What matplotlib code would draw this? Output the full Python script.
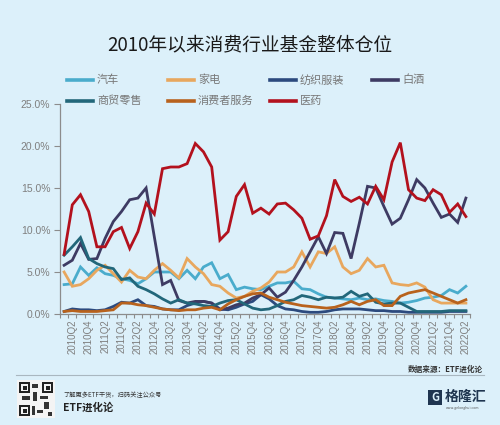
import matplotlib
matplotlib.use("Agg")
import matplotlib.pyplot as plt
from matplotlib.lines import Line2D
from matplotlib.patches import Rectangle

# ---------------- data ----------------
quarters = [f"{y}Q{q}" for y in range(2010, 2023) for q in range(1, 5)][:50]

auto = [3.5, 3.6, 5.6, 4.6, 5.5, 4.8, 4.6, 4.2, 4.0, 3.6,
        4.2, 5.0, 5.0, 5.0, 4.2, 5.2, 4.2, 5.6, 6.1, 4.2,
        4.7, 2.9, 3.2, 3.0, 2.9, 3.3, 3.7, 3.7, 3.9, 3.0,
        2.9, 2.4, 2.0, 1.9, 1.8, 1.7, 1.9, 1.7, 1.8, 1.6,
        1.5, 1.3, 1.4, 1.6, 1.9, 2.0, 2.2, 2.9, 2.5, 3.3]
appliance = [5.0, 3.3, 3.5, 4.2, 5.2, 5.8, 4.8, 3.8, 5.2, 4.4,
             4.2, 5.2, 6.0, 5.2, 4.3, 6.6, 5.6, 4.8, 3.5, 3.3,
             2.5, 1.9, 2.1, 2.7, 3.1, 3.8, 5.0, 5.0, 5.6, 7.4,
             5.6, 7.4, 7.2, 8.0, 5.6, 4.8, 5.2, 6.6, 5.6, 5.8,
             3.7, 3.5, 3.4, 3.7, 3.2, 1.7, 1.3, 1.3, 1.3, 1.3]
textile = [0.3, 0.6, 0.5, 0.5, 0.4, 0.5, 0.9, 1.4, 1.3, 1.7,
           1.0, 0.9, 0.6, 0.5, 0.5, 1.0, 1.3, 1.5, 1.3, 0.6,
           0.5, 0.8, 1.2, 1.5, 2.3, 1.8, 1.0, 0.6, 0.5, 0.3,
           0.2, 0.2, 0.3, 0.5, 0.6, 0.6, 0.6, 0.5, 0.4, 0.4,
           0.3, 0.3, 0.2, 0.2, 0.2, 0.2, 0.2, 0.3, 0.3, 0.3]
liquor = [5.8, 6.4, 8.4, 6.5, 6.6, 9.0, 11.0, 12.2, 13.6, 13.8,
          15.0, 9.2, 3.5, 4.0, 1.6, 1.3, 1.5, 1.5, 1.3, 0.5,
          0.7, 1.1, 1.3, 1.9, 2.3, 3.1, 2.0, 2.6, 4.0, 5.6,
          7.4, 9.2, 7.2, 9.7, 9.6, 6.6, 10.8, 15.2, 15.0, 12.8,
          10.7, 11.4, 13.6, 16.0, 15.0, 13.2, 11.5, 11.9, 10.9, 13.8]
retail = [7.0, 8.0, 9.1, 6.6, 6.0, 5.6, 5.4, 4.1, 4.3, 3.3,
          2.9, 2.4, 1.8, 1.3, 1.7, 1.3, 1.2, 1.0, 0.9, 1.3,
          1.6, 1.7, 1.2, 0.7, 0.5, 0.6, 1.0, 1.5, 1.7, 2.2,
          2.0, 1.7, 2.0, 1.9, 2.0, 2.7, 2.1, 2.4, 1.4, 1.2,
          1.3, 1.3, 0.8, 0.3, 0.3, 0.3, 0.3, 0.4, 0.4, 0.4]
services = [0.3, 0.4, 0.3, 0.3, 0.3, 0.4, 0.5, 1.3, 1.3, 1.1,
            1.0, 0.8, 0.6, 0.5, 0.4, 0.5, 0.5, 0.7, 0.8, 0.5,
            1.2, 1.7, 2.1, 2.4, 2.5, 2.0, 1.7, 1.4, 1.2, 1.0,
            0.9, 0.8, 0.7, 0.8, 1.1, 1.5, 1.1, 1.5, 1.7, 1.0,
            1.0, 2.1, 2.5, 2.7, 2.9, 2.5, 2.1, 1.7, 1.3, 1.7]
pharma = [7.1, 13.0, 14.2, 12.2, 8.0, 8.0, 9.8, 10.3, 7.8, 9.8,
          13.2, 11.9, 17.3, 17.5, 17.5, 17.9, 20.3, 19.3, 17.5, 8.8,
          9.8, 14.0, 15.4, 12.0, 12.6, 11.9, 13.1, 13.2, 12.4, 11.4,
          8.9, 9.3, 11.7, 16.0, 14.0, 13.4, 13.9, 13.1, 15.2, 13.6,
          18.1, 20.4, 14.8, 13.8, 13.5, 14.8, 14.2, 12.1, 13.1, 11.6]

names = ["汽车", "家电", "纺织服装", "白酒", "商贸零售", "消费者服务", "医药"]
series = [auto, appliance, textile, liquor, retail, services, pharma]
colors = ["#4aaccc", "#e8a75e", "#2c4a7e", "#3e3b63", "#22677a", "#b8621d", "#b3111d"]

title = "2010年以来消费行业基金整体仓位"
yticks = [0, 5, 10, 15, 20, 25]

# ---------------- figure ----------------
BG = "#dcf0fa"
plt.rcParams["font.family"] = ["Noto Sans CJK SC", "DejaVu Sans"]
fig = plt.figure(figsize=(5, 4.25), dpi=100, facecolor=BG)
W, H = 500, 425

def fx(px):
    return px / W

def fy(py):
    return 1 - py / H

ax = fig.add_axes([fx(60), fy(314), fx(410), 210 / H])
ax.set_facecolor(BG)

x = list(range(len(quarters)))
for vals, col, nm in zip(series, colors, names):
    ax.plot(x, vals, color=col, lw=2.0, solid_joinstyle="miter", label=nm)

ax.set_xlim(-0.5, len(quarters) - 0.5)
ax.set_ylim(0, 25)
ax.set_yticks(yticks)
ax.set_yticklabels([f"{v:.1f}%" for v in yticks], fontsize=7.5,
                   color="#7f7f7f", family="Liberation Sans")
lab_idx = [i for i, q in enumerate(quarters) if q.endswith("Q2") or q.endswith("Q4")]
ax.set_xticks(lab_idx)
ax.set_xticklabels([quarters[i] for i in lab_idx], rotation=90, fontsize=7,
                   color="#7f7f7f", family="Liberation Sans")
ax.set_xticks([i - 0.5 for i in range(len(quarters) + 1)], minor=True)
ax.tick_params(axis="x", which="major", length=0, pad=4)
ax.tick_params(axis="x", which="minor", length=3, color="#8c8c8c", width=0.8)
ax.tick_params(axis="y", length=4, color="#8c8c8c", width=0.8, pad=3)
for s in ["top", "right"]:
    ax.spines[s].set_visible(False)
for s in ["left", "bottom"]:
    ax.spines[s].set_color("#8c8c8c")
    ax.spines[s].set_linewidth(0.9)

# title
fig.text(0.5, fy(45), title, ha="center", va="center", fontsize=13.5, color="#1a1a1a")

# legend (manual, row-wise)
leg_pos = [(67, 80), (168, 80), (270, 80), (372, 80),
           (67, 100.5), (168, 100.5), (270, 100.5)]
for (lx, ly), nm, col in zip(leg_pos, names, colors):
    fig.add_artist(Line2D([fx(lx), fx(lx + 26)], [fy(ly), fy(ly)], color=col, lw=2.6,
                          transform=fig.transFigure))
    fig.text(fx(lx + 30), fy(ly), nm, ha="left", va="center", fontsize=8,
             color="#777777")

# source & footer
fig.text(fx(483), fy(369), "数据来源：ETF进化论", ha="right", va="center",
         fontsize=5.5, color="#333333", weight="bold")
fig.add_artist(Line2D([fx(16), fx(484)], [fy(375), fy(375)], color="#a9b7c0", lw=0.8,
                      transform=fig.transFigure))

# QR-code-like block
fig.add_artist(Rectangle((fx(17), fy(418)), fx(38), 38 / H, facecolor="#f4f4f4",
                         edgecolor="none", transform=fig.transFigure))
for (qx, qy) in [(19, 382), (42, 382), (19, 405)]:
    fig.add_artist(Rectangle((fx(qx), fy(qy + 11)), fx(11), 11 / H, facecolor="#222222",
                             edgecolor="none", transform=fig.transFigure))
    fig.add_artist(Rectangle((fx(qx + 2), fy(qy + 9)), fx(7), 7 / H, facecolor="#f4f4f4",
                             edgecolor="none", transform=fig.transFigure))
    fig.add_artist(Rectangle((fx(qx + 3.5), fy(qy + 7.5)), fx(4), 4 / H, facecolor="#222222",
                             edgecolor="none", transform=fig.transFigure))
for (qx, qy, qw, qh) in [(32, 384, 6, 4), (33, 392, 4, 9), (40, 396, 8, 3), (44, 402, 5, 7),
                         (32, 406, 3, 9), (37, 410, 6, 3), (48, 412, 4, 4), (22, 396, 8, 4)]:
    fig.add_artist(Rectangle((fx(qx), fy(qy + qh)), fx(qw), qh / H, facecolor="#333333",
                             edgecolor="none", transform=fig.transFigure))

fig.text(fx(63), fy(395.5), "了解更多ETF干货，扫码关注公众号", ha="left", va="center",
         fontsize=4.5, color="#333333", style="italic")
fig.text(fx(63), fy(408), "ETF进化论", ha="left", va="center", fontsize=7.5,
         color="#222222", weight="bold")

# logo
fig.add_artist(Rectangle((fx(428), fy(405)), fx(14), 15 / H, facecolor="#1f3550",
                         edgecolor="none", transform=fig.transFigure))
fig.text(fx(435), fy(397.5), "G", ha="center", va="center", fontsize=8, color=BG,
         weight="bold")
fig.text(fx(445), fy(397), "格隆汇", ha="left", va="center", fontsize=10,
         color="#1f3550", weight="bold")
fig.text(fx(463), fy(408), "www.gelonghui.com", ha="center", va="center", fontsize=2.5,
         color="#555555")

fig.savefig("out.png", dpi=100, facecolor=BG)
